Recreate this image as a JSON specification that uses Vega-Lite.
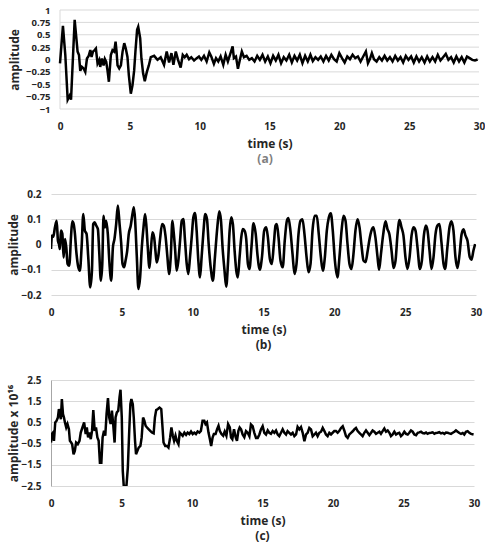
{
  "$schema": "https://vega.github.io/schema/vega-lite/v6.json",
  "padding": {"left": 7, "top": 5, "right": 0, "bottom": 6},
  "spacing": 24,
  "config": {
    "view": {"stroke": null},
    "font": "Open Sans",
    "axis": {
      "labelFont": "Open Sans", "labelFontWeight": "bold", "labelFontSize": 10, "labelColor": "#262626",
      "titleFont": "Open Sans", "titleFontWeight": "bold", "titleFontSize": 12, "titleColor": "#262626",
      "ticks": false
    },
    "axisX": {"grid": false, "domain": false, "labelPadding": 12, "titlePadding": 7, "labelFlush": false},
    "axisY": {"grid": true, "gridColor": "#d9d9d9", "gridWidth": 1, "domain": false, "labelPadding": 10},
    "title": {"font": "Open Sans", "fontWeight": "bold", "fontSize": 12, "color": "#262626", "orient": "bottom", "anchor": "middle", "offset": 5}
  },
  "datasets": {
    "a": [
      {"t":0,"v":-0.08},{"t":0.21,"v":0.68},{"t":0.38,"v":0.09},{"t":0.55,"v":-0.81},{"t":0.69,"v":-0.73},{"t":0.79,"v":-0.81},
      {"t":1.05,"v":0.8},{"t":1.26,"v":0.16},{"t":1.36,"v":0.09},{"t":1.45,"v":-0.23},{"t":1.57,"v":-0.15},{"t":1.69,"v":-0.18},
      {"t":1.81,"v":-0.25},{"t":1.93,"v":0.02},{"t":2.05,"v":0.07},{"t":2.17,"v":0.19},{"t":2.26,"v":0.05},{"t":2.36,"v":0.16},
      {"t":2.48,"v":0.19},{"t":2.57,"v":0.22},{"t":2.69,"v":-0.08},{"t":2.81,"v":-0.01},{"t":2.88,"v":-0.15},{"t":3.0,"v":0.02},
      {"t":3.12,"v":-0.12},{"t":3.21,"v":0.01},{"t":3.31,"v":-0.05},{"t":3.4,"v":-0.22},{"t":3.5,"v":-0.45},{"t":3.64,"v":0.09},
      {"t":3.76,"v":0.19},{"t":3.88,"v":0.16},{"t":3.98,"v":0.36},{"t":4.05,"v":0.16},{"t":4.12,"v":-0.12},{"t":4.24,"v":-0.18},
      {"t":4.36,"v":-0.12},{"t":4.48,"v":0.16},{"t":4.6,"v":0.33},{"t":4.71,"v":0.22},{"t":4.83,"v":0.05},{"t":4.93,"v":-0.32},
      {"t":5.07,"v":-0.69},{"t":5.19,"v":-0.52},{"t":5.31,"v":-0.22},{"t":5.4,"v":0.16},{"t":5.52,"v":0.6},{"t":5.6,"v":0.66},
      {"t":5.74,"v":0.43},{"t":5.83,"v":0.02},{"t":5.95,"v":-0.28},{"t":6.07,"v":-0.44},{"t":6.21,"v":-0.26},{"t":6.36,"v":-0.12},
      {"t":6.5,"v":0.047},{"t":6.74,"v":0.074},{"t":6.98,"v":-0.007},{"t":7.21,"v":0.047},{"t":7.45,"v":-0.108},{"t":7.64,"v":0.162},
      {"t":7.81,"v":-0.061},{"t":7.98,"v":0.128},{"t":8.12,"v":-0.108},{"t":8.29,"v":0.162},{"t":8.45,"v":-0.007},{"t":8.64,"v":-0.162},
      {"t":8.79,"v":0.095},{"t":8.93,"v":0.047},{"t":9.07,"v":0.095},{"t":9.24,"v":0.007},{"t":9.4,"v":0.047},{"t":9.6,"v":-0.02},
      {"t":9.79,"v":0.027},{"t":9.95,"v":0.061},{"t":10.12,"v":-0.007},{"t":10.31,"v":0.074},{"t":10.5,"v":-0.04},{"t":10.69,"v":0.142},
      {"t":10.83,"v":0.061},{"t":11.02,"v":-0.088},{"t":11.17,"v":0.027},{"t":11.33,"v":-0.04},{"t":11.5,"v":0.061},{"t":11.69,"v":-0.108},
      {"t":11.86,"v":0.095},{"t":12.02,"v":-0.04},{"t":12.21,"v":0.128},{"t":12.36,"v":0.264},{"t":12.45,"v":0.027},{"t":12.6,"v":0.061},
      {"t":12.74,"v":-0.189},{"t":12.88,"v":-0.007},{"t":13.02,"v":0.162},{"t":13.17,"v":0.047},{"t":13.36,"v":0.074},{"t":13.55,"v":-0.007},
      {"t":13.74,"v":0.027},{"t":13.93,"v":-0.04},{"t":14.12,"v":0.074},{"t":14.31,"v":-0.007},{"t":14.5,"v":0.095},{"t":14.69,"v":-0.04},
      {"t":14.88,"v":0.061},{"t":15.07,"v":-0.074},{"t":15.26,"v":0.074},{"t":15.45,"v":-0.02},{"t":15.64,"v":0.095},{"t":15.83,"v":-0.074},
      {"t":16.02,"v":0.047},{"t":16.21,"v":-0.02},{"t":16.41,"v":0.095},{"t":16.6,"v":-0.061},{"t":16.79,"v":0.074},{"t":16.98,"v":-0.02},
      {"t":17.17,"v":0.095},{"t":17.36,"v":-0.074},{"t":17.55,"v":0.074},{"t":17.74,"v":-0.04},{"t":17.93,"v":0.095},{"t":18.1,"v":-0.03},
      {"t":18.29,"v":0.047},{"t":18.48,"v":-0.007},{"t":18.67,"v":0.061},{"t":18.86,"v":-0.04},{"t":19.05,"v":0.074},{"t":19.24,"v":-0.02},
      {"t":19.43,"v":0.095},{"t":19.62,"v":0.007},{"t":19.81,"v":-0.04},{"t":20.0,"v":0.128},{"t":20.19,"v":0.027},{"t":20.38,"v":-0.061},
      {"t":20.57,"v":0.061},{"t":20.76,"v":0.007},{"t":20.95,"v":0.095},{"t":21.14,"v":0.027},{"t":21.33,"v":0.061},{"t":21.52,"v":-0.04},
      {"t":21.71,"v":0.061},{"t":21.9,"v":0.162},{"t":22.05,"v":-0.074},{"t":22.19,"v":0.007},{"t":22.33,"v":0.128},{"t":22.48,"v":0.007},
      {"t":22.67,"v":-0.04},{"t":22.86,"v":0.047},{"t":23.05,"v":-0.02},{"t":23.24,"v":0.074},{"t":23.43,"v":-0.02},{"t":23.62,"v":0.047},
      {"t":23.81,"v":-0.04},{"t":24.0,"v":0.074},{"t":24.19,"v":-0.02},{"t":24.38,"v":0.047},{"t":24.57,"v":-0.061},{"t":24.76,"v":0.074},
      {"t":24.95,"v":-0.007},{"t":25.14,"v":0.061},{"t":25.33,"v":-0.061},{"t":25.52,"v":0.061},{"t":25.71,"v":-0.04},{"t":25.9,"v":0.047},
      {"t":26.1,"v":-0.061},{"t":26.29,"v":0.061},{"t":26.48,"v":-0.04},{"t":26.67,"v":0.047},{"t":26.86,"v":-0.04},{"t":27.05,"v":0.095},
      {"t":27.24,"v":-0.02},{"t":27.43,"v":0.047},{"t":27.62,"v":0.115},{"t":27.81,"v":-0.007},{"t":28.0,"v":0.047},{"t":28.19,"v":-0.061},
      {"t":28.38,"v":0.061},{"t":28.57,"v":-0.04},{"t":28.76,"v":0.047},{"t":28.95,"v":-0.061},{"t":29.14,"v":0.061},{"t":29.33,"v":0.027},
      {"t":29.52,"v":-0.007},{"t":29.71,"v":-0.02},{"t":29.9,"v":0.0}
    ],
    "b": [
      {"t":0,"v":-0.018},{"t":0.07,"v":0.035},{"t":0.16,"v":0.031},{"t":0.28,"v":0.068},{"t":0.4,"v":0.094},{"t":0.49,"v":0.015},
      {"t":0.56,"v":0.002},{"t":0.63,"v":-0.018},{"t":0.7,"v":0.055},{"t":0.8,"v":0.042},{"t":0.89,"v":-0.051},{"t":0.99,"v":0.022},
      {"t":1.08,"v":-0.011},{"t":1.17,"v":-0.077},{"t":1.29,"v":-0.084},{"t":1.41,"v":0.028},{"t":1.5,"v":0.092},{"t":1.6,"v":0.081},
      {"t":1.69,"v":0.042},{"t":1.78,"v":-0.024},{"t":1.92,"v":-0.088},{"t":2.04,"v":-0.104},{"t":2.16,"v":-0.011},{"t":2.28,"v":0.121},
      {"t":2.39,"v":0.055},{"t":2.51,"v":0.042},{"t":2.63,"v":-0.051},{"t":2.77,"v":-0.17},{"t":2.89,"v":-0.104},{"t":2.98,"v":0.081},
      {"t":3.08,"v":0.088},{"t":3.19,"v":0.075},{"t":3.31,"v":0.061},{"t":3.4,"v":-0.024},{"t":3.52,"v":-0.143},{"t":3.62,"v":-0.077},
      {"t":3.71,"v":0.114},{"t":3.8,"v":0.068},{"t":3.9,"v":0.094},{"t":4.01,"v":0.042},{"t":4.13,"v":-0.077},{"t":4.25,"v":-0.143},
      {"t":4.37,"v":-0.011},{"t":4.48,"v":0.022},{"t":4.6,"v":0.081},{"t":4.72,"v":0.154},{"t":4.84,"v":0.081},{"t":4.95,"v":0.009},
      {"t":5.05,"v":-0.077},{"t":5.16,"v":-0.09},{"t":5.26,"v":-0.064},{"t":5.38,"v":-0.024},{"t":5.49,"v":0.042},{"t":5.63,"v":0.075},
      {"t":5.75,"v":0.121},{"t":5.85,"v":0.147},{"t":5.94,"v":0.094},{"t":6.06,"v":-0.051},{"t":6.17,"v":-0.176},{"t":6.29,"v":-0.13},
      {"t":6.41,"v":-0.011},{"t":6.53,"v":0.068},{"t":6.64,"v":0.121},{"t":6.74,"v":0.068},{"t":6.83,"v":-0.011},{"t":6.95,"v":-0.093},
      {"t":7.04,"v":-0.031},{"t":7.16,"v":0.048},{"t":7.28,"v":0.028},{"t":7.37,"v":-0.024},{"t":7.46,"v":-0.071},{"t":7.58,"v":-0.044},
      {"t":7.7,"v":0.022},{"t":7.84,"v":0.081},{"t":7.96,"v":0.075},{"t":8.08,"v":0.035},{"t":8.22,"v":-0.051},{"t":8.33,"v":-0.117},
      {"t":8.45,"v":-0.051},{"t":8.57,"v":0.094},{"t":8.66,"v":0.048},{"t":8.76,"v":-0.018},{"t":8.87,"v":-0.104},{"t":8.99,"v":-0.064},
      {"t":9.11,"v":0.015},{"t":9.23,"v":0.094},{"t":9.34,"v":0.101},{"t":9.46,"v":0.015},{"t":9.58,"v":-0.077},{"t":9.69,"v":-0.117},
      {"t":9.81,"v":-0.051},{"t":9.93,"v":0.028},{"t":10.05,"v":0.108},{"t":10.16,"v":0.125},{"t":10.28,"v":0.055},{"t":10.4,"v":-0.064},
      {"t":10.52,"v":-0.13},{"t":10.63,"v":-0.051},{"t":10.75,"v":0.042},{"t":10.89,"v":0.121},{"t":11.01,"v":0.101},{"t":11.13,"v":0.002},
      {"t":11.27,"v":-0.09},{"t":11.43,"v":-0.143},{"t":11.57,"v":-0.051},{"t":11.74,"v":0.068},{"t":11.88,"v":0.131},{"t":12.0,"v":0.094},
      {"t":12.11,"v":-0.011},{"t":12.25,"v":-0.104},{"t":12.37,"v":-0.167},{"t":12.49,"v":-0.077},{"t":12.61,"v":0.055},{"t":12.72,"v":0.108},
      {"t":12.84,"v":0.081},{"t":12.96,"v":-0.024},{"t":13.08,"v":-0.104},{"t":13.19,"v":-0.13},{"t":13.31,"v":-0.051},{"t":13.43,"v":0.028},
      {"t":13.54,"v":0.061},{"t":13.66,"v":0.055},{"t":13.78,"v":0.022},{"t":13.9,"v":-0.077},{"t":14.01,"v":-0.097},{"t":14.15,"v":-0.01},
      {"t":14.29,"v":0.084},{"t":14.45,"v":0.042},{"t":14.58,"v":-0.044},{"t":14.74,"v":-0.1},{"t":14.89,"v":-0.051},{"t":15.05,"v":0.055},
      {"t":15.19,"v":0.068},{"t":15.31,"v":0.028},{"t":15.45,"v":-0.057},{"t":15.59,"v":-0.077},{"t":15.73,"v":0.002},{"t":15.85,"v":0.075},
      {"t":15.94,"v":0.081},{"t":16.06,"v":0.028},{"t":16.2,"v":-0.064},{"t":16.36,"v":-0.09},{"t":16.5,"v":0.015},{"t":16.65,"v":0.094},
      {"t":16.76,"v":0.105},{"t":16.9,"v":0.055},{"t":17.05,"v":-0.038},{"t":17.19,"v":-0.117},{"t":17.33,"v":-0.077},{"t":17.47,"v":0.04},
      {"t":17.61,"v":0.094},{"t":17.75,"v":0.1},{"t":17.89,"v":0.042},{"t":18.04,"v":-0.05},{"t":18.18,"v":-0.11},{"t":18.32,"v":-0.077},
      {"t":18.46,"v":0.055},{"t":18.62,"v":0.114},{"t":18.76,"v":0.114},{"t":18.9,"v":0.042},{"t":19.05,"v":-0.05},{"t":19.19,"v":-0.104},
      {"t":19.33,"v":-0.051},{"t":19.47,"v":0.055},{"t":19.61,"v":0.107},{"t":19.75,"v":0.124},{"t":19.89,"v":0.055},{"t":20.04,"v":-0.064},
      {"t":20.22,"v":-0.13},{"t":20.36,"v":-0.051},{"t":20.51,"v":0.055},{"t":20.65,"v":0.114},{"t":20.79,"v":0.094},{"t":20.93,"v":0.002},
      {"t":21.07,"v":-0.077},{"t":21.21,"v":-0.097},{"t":21.35,"v":-0.038},{"t":21.49,"v":0.055},{"t":21.64,"v":0.1},{"t":21.78,"v":0.068},
      {"t":21.92,"v":-0.005},{"t":22.06,"v":-0.064},{"t":22.2,"v":-0.07},{"t":22.34,"v":-0.03},{"t":22.48,"v":0.02},{"t":22.62,"v":0.055},
      {"t":22.76,"v":0.068},{"t":22.9,"v":0.028},{"t":23.05,"v":-0.05},{"t":23.16,"v":-0.1},{"t":23.29,"v":-0.038},{"t":23.45,"v":0.04},
      {"t":23.61,"v":0.092},{"t":23.75,"v":0.061},{"t":23.89,"v":0.04},{"t":24.04,"v":-0.025},{"t":24.18,"v":-0.093},{"t":24.32,"v":-0.064},
      {"t":24.46,"v":0.04},{"t":24.6,"v":0.097},{"t":24.74,"v":0.068},{"t":24.88,"v":0.035},{"t":25.02,"v":-0.05},{"t":25.16,"v":-0.097},
      {"t":25.31,"v":-0.051},{"t":25.45,"v":0.035},{"t":25.59,"v":0.068},{"t":25.73,"v":0.055},{"t":25.87,"v":-0.011},{"t":26.04,"v":-0.097},
      {"t":26.18,"v":-0.064},{"t":26.32,"v":0.035},{"t":26.46,"v":0.075},{"t":26.58,"v":0.055},{"t":26.72,"v":-0.024},{"t":26.86,"v":-0.097},
      {"t":27.0,"v":-0.051},{"t":27.14,"v":0.04},{"t":27.28,"v":0.075},{"t":27.42,"v":0.081},{"t":27.56,"v":0.009},{"t":27.71,"v":-0.077},
      {"t":27.82,"v":-0.097},{"t":27.98,"v":-0.011},{"t":28.13,"v":0.068},{"t":28.27,"v":0.092},{"t":28.41,"v":0.055},{"t":28.55,"v":-0.05},
      {"t":28.69,"v":-0.093},{"t":28.84,"v":-0.038},{"t":28.98,"v":0.04},{"t":29.12,"v":0.06},{"t":29.26,"v":0.035},{"t":29.4,"v":0.015},
      {"t":29.56,"v":-0.05},{"t":29.68,"v":-0.06},{"t":29.82,"v":-0.024},{"t":29.94,"v":0.002}
    ],
    "c": [
      {"t":0,"v":-0.45},{"t":0.05,"v":-0.05},{"t":0.14,"v":0.02},{"t":0.21,"v":-0.37},{"t":0.3,"v":0.5},{"t":0.4,"v":0.58},
      {"t":0.49,"v":0.73},{"t":0.56,"v":1.13},{"t":0.63,"v":0.89},{"t":0.7,"v":0.65},{"t":0.77,"v":1.6},{"t":0.85,"v":0.89},
      {"t":0.92,"v":0.73},{"t":0.99,"v":0.5},{"t":1.08,"v":0.26},{"t":1.17,"v":0.42},{"t":1.27,"v":0.18},{"t":1.34,"v":-0.37},
      {"t":1.43,"v":-0.45},{"t":1.5,"v":-0.53},{"t":1.6,"v":-1.0},{"t":1.69,"v":-0.84},{"t":1.78,"v":-0.45},{"t":1.9,"v":-0.53},
      {"t":2.02,"v":-0.37},{"t":2.11,"v":0.02},{"t":2.23,"v":0.26},{"t":2.35,"v":0.5},{"t":2.46,"v":-0.05},{"t":2.54,"v":0.26},
      {"t":2.63,"v":-0.21},{"t":2.72,"v":0.02},{"t":2.82,"v":-0.29},{"t":2.91,"v":0.1},{"t":3.0,"v":1.08},{"t":3.1,"v":0.1},
      {"t":3.19,"v":0.26},{"t":3.29,"v":-0.21},{"t":3.38,"v":-0.37},{"t":3.47,"v":-1.4},{"t":3.57,"v":-1.4},{"t":3.66,"v":-0.21},
      {"t":3.76,"v":0.1},{"t":3.85,"v":-0.13},{"t":3.94,"v":0.89},{"t":4.04,"v":1.65},{"t":4.13,"v":0.73},{"t":4.23,"v":0.42},
      {"t":4.32,"v":1.05},{"t":4.41,"v":0.42},{"t":4.51,"v":-0.45},{"t":4.58,"v":0.73},{"t":4.67,"v":0.97},{"t":4.77,"v":1.05},
      {"t":4.86,"v":1.68},{"t":4.93,"v":2.04},{"t":5.02,"v":0.73},{"t":5.09,"v":-1.79},{"t":5.16,"v":-2.5},{"t":5.35,"v":-2.5},
      {"t":5.45,"v":-1.63},{"t":5.54,"v":-0.05},{"t":5.63,"v":1.36},{"t":5.7,"v":1.6},{"t":5.8,"v":1.36},{"t":5.87,"v":0.73},
      {"t":5.96,"v":-0.37},{"t":6.03,"v":-1.0},{"t":6.13,"v":-0.84},{"t":6.22,"v":-0.69},{"t":6.34,"v":-0.61},{"t":6.43,"v":-0.21},
      {"t":6.53,"v":0.73},{"t":6.62,"v":0.58},{"t":6.71,"v":0.34},{"t":6.81,"v":0.26},{"t":6.92,"v":0.18},{"t":7.04,"v":0.1},
      {"t":7.16,"v":0.02},{"t":7.28,"v":-0.02},{"t":7.37,"v":0.73},{"t":7.46,"v":1.08},{"t":7.58,"v":1.13},{"t":7.7,"v":1.2},
      {"t":7.82,"v":1.13},{"t":7.91,"v":0.26},{"t":7.98,"v":-0.45},{"t":8.1,"v":-0.61},{"t":8.22,"v":-0.61},{"t":8.33,"v":-0.69},
      {"t":8.45,"v":-0.21},{"t":8.54,"v":0.26},{"t":8.64,"v":-0.13},{"t":8.73,"v":-0.37},{"t":8.83,"v":-0.13},{"t":8.92,"v":-0.37},
      {"t":9.04,"v":-0.53},{"t":9.13,"v":0.02},{"t":9.23,"v":-0.05},{"t":9.34,"v":-0.13},{"t":9.46,"v":0.02},{"t":9.58,"v":-0.09},
      {"t":9.69,"v":0.02},{"t":9.81,"v":-0.05},{"t":9.93,"v":0.07},{"t":10.05,"v":-0.05},{"t":10.16,"v":0.02},{"t":10.28,"v":-0.05},
      {"t":10.4,"v":0.07},{"t":10.52,"v":0.02},{"t":10.63,"v":0.1},{"t":10.75,"v":0.58},{"t":10.87,"v":0.58},{"t":10.96,"v":0.42},
      {"t":11.06,"v":0.5},{"t":11.17,"v":0.02},{"t":11.27,"v":-0.29},{"t":11.36,"v":-0.61},{"t":11.46,"v":-0.21},{"t":11.55,"v":-0.05},
      {"t":11.67,"v":-0.05},{"t":11.78,"v":0.18},{"t":11.88,"v":0.34},{"t":11.97,"v":0.1},{"t":12.09,"v":-0.05},{"t":12.21,"v":-0.13},
      {"t":12.32,"v":0.07},{"t":12.44,"v":-0.13},{"t":12.56,"v":0.42},{"t":12.68,"v":0.26},{"t":12.77,"v":-0.21},{"t":12.86,"v":-0.29},
      {"t":12.98,"v":0.18},{"t":13.1,"v":-0.21},{"t":13.19,"v":-0.37},{"t":13.29,"v":0.1},{"t":13.38,"v":0.26},{"t":13.48,"v":0.17},
      {"t":13.59,"v":-0.07},{"t":13.71,"v":-0.2},{"t":13.83,"v":0.09},{"t":13.95,"v":0.01},{"t":14.07,"v":-0.15},{"t":14.18,"v":0.4},
      {"t":14.3,"v":0.32},{"t":14.42,"v":0.01},{"t":14.54,"v":-0.23},{"t":14.66,"v":-0.23},{"t":14.78,"v":-0.07},{"t":14.89,"v":0.17},
      {"t":15.01,"v":0.32},{"t":15.13,"v":0.01},{"t":15.25,"v":-0.07},{"t":15.37,"v":0.12},{"t":15.48,"v":0.01},{"t":15.6,"v":-0.04},
      {"t":15.72,"v":0.09},{"t":15.84,"v":0.01},{"t":15.96,"v":0.12},{"t":16.08,"v":-0.07},{"t":16.19,"v":-0.15},{"t":16.31,"v":0.01},
      {"t":16.43,"v":0.17},{"t":16.55,"v":0.01},{"t":16.67,"v":-0.07},{"t":16.78,"v":0.09},{"t":16.9,"v":0.01},{"t":17.02,"v":-0.07},
      {"t":17.14,"v":0.01},{"t":17.26,"v":-0.15},{"t":17.38,"v":-0.07},{"t":17.49,"v":0.29},{"t":17.61,"v":0.17},{"t":17.73,"v":0.28},
      {"t":17.85,"v":0.01},{"t":17.97,"v":-0.39},{"t":18.09,"v":-0.07},{"t":18.2,"v":0.01},{"t":18.32,"v":0.24},{"t":18.44,"v":0.17},
      {"t":18.56,"v":-0.15},{"t":18.68,"v":-0.07},{"t":18.79,"v":0.01},{"t":18.91,"v":-0.15},{"t":19.03,"v":0.01},{"t":19.15,"v":0.06},
      {"t":19.27,"v":0.24},{"t":19.39,"v":0.09},{"t":19.5,"v":-0.07},{"t":19.62,"v":-0.15},{"t":19.74,"v":0.01},{"t":19.86,"v":-0.07},
      {"t":20.09,"v":0.09},{"t":20.21,"v":0.09},{"t":20.33,"v":0.01},{"t":20.45,"v":0.1},{"t":20.57,"v":0.24},{"t":20.69,"v":0.32},
      {"t":20.8,"v":0.12},{"t":20.92,"v":-0.15},{"t":21.04,"v":-0.23},{"t":21.16,"v":-0.07},{"t":21.28,"v":0.01},{"t":21.4,"v":0.08},
      {"t":21.51,"v":0.17},{"t":21.63,"v":0.24},{"t":21.75,"v":0.09},{"t":21.87,"v":0.01},{"t":21.98,"v":-0.07},{"t":22.1,"v":-0.15},
      {"t":22.22,"v":0.01},{"t":22.34,"v":0.12},{"t":22.46,"v":0.01},{"t":22.58,"v":-0.1},{"t":22.7,"v":0.01},{"t":22.81,"v":0.12},
      {"t":22.93,"v":0.06},{"t":23.05,"v":-0.04},{"t":23.17,"v":0.01},{"t":23.29,"v":0.06},{"t":23.4,"v":-0.04},{"t":23.52,"v":0.09},
      {"t":23.64,"v":0.21},{"t":23.76,"v":0.06},{"t":23.88,"v":0.12},{"t":24.0,"v":0.01},{"t":24.11,"v":-0.15},{"t":24.23,"v":-0.07},
      {"t":24.35,"v":0.06},{"t":24.47,"v":-0.07},{"t":24.59,"v":-0.02},{"t":24.7,"v":0.01},{"t":24.82,"v":-0.15},{"t":24.94,"v":-0.07},
      {"t":25.06,"v":0.06},{"t":25.18,"v":-0.04},{"t":25.3,"v":-0.07},{"t":25.41,"v":0.01},{"t":25.53,"v":0.12},{"t":25.65,"v":0.06},
      {"t":25.77,"v":-0.07},{"t":25.89,"v":-0.1},{"t":26.01,"v":0.01},{"t":26.12,"v":0.03},{"t":26.24,"v":0.06},{"t":26.36,"v":0.0},
      {"t":26.48,"v":-0.02},{"t":26.6,"v":0.02},{"t":26.71,"v":-0.04},{"t":26.83,"v":0.0},{"t":26.95,"v":0.01},{"t":27.07,"v":0.03},
      {"t":27.19,"v":-0.04},{"t":27.3,"v":0.0},{"t":27.42,"v":0.01},{"t":27.54,"v":0.04},{"t":27.66,"v":-0.02},{"t":27.78,"v":0.01},
      {"t":27.9,"v":-0.04},{"t":28.01,"v":0.02},{"t":28.13,"v":0.01},{"t":28.25,"v":-0.02},{"t":28.37,"v":-0.04},{"t":28.49,"v":0.01},
      {"t":28.61,"v":0.06},{"t":28.72,"v":0.12},{"t":28.84,"v":0.06},{"t":28.96,"v":0.0},{"t":29.08,"v":-0.04},{"t":29.2,"v":0.0},
      {"t":29.31,"v":-0.07},{"t":29.43,"v":0.06},{"t":29.55,"v":0.09},{"t":29.67,"v":0.01},{"t":29.79,"v":-0.04},{"t":29.97,"v":-0.07}
    ],
    "gridA": [
      {"v":-1},{"v":-0.75},{"v":-0.5},{"v":-0.25},{"v":0},{"v":0.25},{"v":0.5},{"v":0.75},{"v":1}
    ],
    "domainA": [
      {"v":-1,"v2":1}
    ]
  },
  "vconcat": [
    {
      "width": 428,
      "height": 99,
      "title": {"text": "(a)", "color": "#808080"},
      "encoding": {
        "y": {
          "field": "v", "type": "quantitative",
          "scale": {"domain": [-1, 1], "nice": false},
          "axis": {
            "title": "amplitude", "values": [-1, -0.75, -0.5, -0.25, 0, 0.25, 0.5, 0.75, 1], "format": ".2~f",
            "grid": false, "labelPadding": 1, "labelFontSize": 9.5,
            "minExtent": 27, "maxExtent": 27, "titlePadding": 3
          }
        }
      },
      "layer": [
        {
          "data": {"name": "gridA"},
          "mark": {"type": "rule", "color": "#d9d9d9", "strokeWidth": 1},
          "encoding": {"x": {"datum": 0}, "x2": {"datum": 30}}
        },
        {
          "data": {"name": "domainA"},
          "mark": {"type": "rule", "color": "#d9d9d9", "strokeWidth": 1},
          "encoding": {"x": {"datum": 0}, "y2": {"field": "v2"}}
        },
        {
          "data": {"name": "a"},
          "mark": {"type": "line", "color": "#000000", "strokeWidth": 2.5, "clip": true},
          "encoding": {
            "x": {
              "field": "t", "type": "quantitative",
              "scale": {"domain": [0, 30], "range": [9, 428], "nice": false},
              "axis": {"title": "time (s)", "values": [0, 5, 10, 15, 20, 25, 30], "format": "d"}
            }
          }
        }
      ]
    },
    {
      "width": 425,
      "height": 101,
      "title": {"text": "(b)"},
      "data": {"name": "b"},
      "mark": {"type": "line", "color": "#000000", "strokeWidth": 2.6, "interpolate": "monotone", "clip": true},
      "encoding": {
        "x": {
          "field": "t", "type": "quantitative",
          "scale": {"domain": [0, 30], "nice": false},
          "axis": {"title": "time (s)", "values": [0, 5, 10, 15, 20, 25, 30], "format": "d"}
        },
        "y": {
          "field": "v", "type": "quantitative",
          "scale": {"domain": [-0.2, 0.2], "nice": false},
          "axis": {
            "title": "amplitude", "values": [-0.2, -0.1, 0, 0.1, 0.2], "format": ".1~f",
            "minExtent": 29, "maxExtent": 29, "titlePadding": 2
          }
        }
      }
    },
    {
      "width": 423,
      "height": 106,
      "title": {"text": "(c)"},
      "data": {"name": "c"},
      "mark": {"type": "line", "color": "#000000", "strokeWidth": 2.5, "clip": true},
      "encoding": {
        "x": {
          "field": "t", "type": "quantitative",
          "scale": {"domain": [0, 30], "nice": false},
          "axis": {"title": "time (s)", "values": [0, 5, 10, 15, 20, 25, 30], "format": "d"}
        },
        "y": {
          "field": "v", "type": "quantitative",
          "scale": {"domain": [-2.5, 2.5], "nice": false},
          "axis": {
            "title": "amplitude x 10¹⁶", "values": [-2.5, -1.5, -0.5, 0.5, 1.5, 2.5], "format": ".1~f",
            "minExtent": 29, "maxExtent": 29, "titlePadding": 2,
            "domain": true, "domainColor": "#a6a6a6"
          }
        }
      }
    }
  ]
}
